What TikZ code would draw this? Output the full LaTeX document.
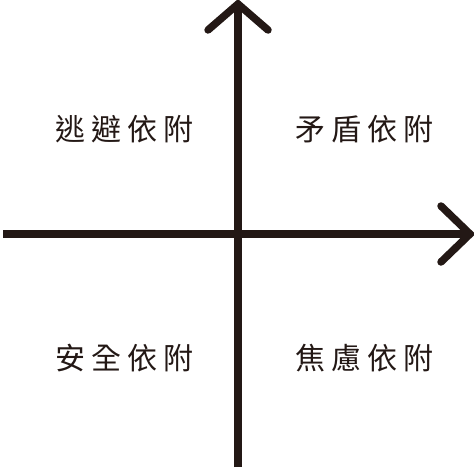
\documentclass[tikz,border=0pt]{standalone}
\usepackage{fontspec}
\newfontfamily\cjk{Noto Sans CJK TC}
\newcommand{\qlabel}[4]{#1\hspace{6pt}#2\hspace{6pt}#3\hspace{6pt}#4}
\definecolor{axis}{HTML}{231815}
\begin{document}
\begin{tikzpicture}[x=1pt,y=-1pt,
  axisline/.style={draw=axis,line width=7.5pt},
  chevron/.style={draw=axis,line width=7.5pt,line cap=round,line join=miter},
  label/.style={font=\cjk\fontsize{30}{32}\selectfont,text=axis,inner sep=0pt}]
\useasboundingbox (0,0) rectangle (474,469);
\coordinate (L) at (3,234);
\coordinate (R) at (470,234);
\coordinate (B) at (238,467);
\coordinate (T) at (238,4);
\coordinate (ta) at (208,30);
\coordinate (tb) at (268,30);
\coordinate (ra) at (441,206);
\coordinate (rb) at (441,262);
\draw[axisline] (L) -- (R);
\draw[axisline] (B) -- (T);
\draw[chevron] (ta) -- (T) -- (tb);
\draw[chevron] (ra) -- (R) -- (rb);
\node[label] (q2) at (124,129) {\qlabel{逃}{避}{依}{附}};
\node[label] (q1) at (364,129) {\qlabel{矛}{盾}{依}{附}};
\node[label] (q3) at (124,358) {\qlabel{安}{全}{依}{附}};
\node[label] (q4) at (364,358) {\qlabel{焦}{慮}{依}{附}};
\end{tikzpicture}
\end{document}
